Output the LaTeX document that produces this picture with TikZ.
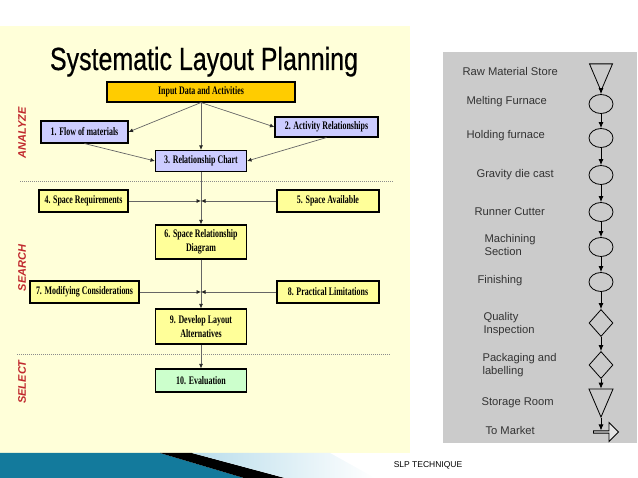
\documentclass[tikz,border=0pt]{standalone}
\usepackage{fontspec}
\usepackage{xcolor}
\usetikzlibrary{arrows.meta,shapes.geometric,shapes.arrows}
\setmainfont{Liberation Serif}
\newfontfamily\titlefont[FakeStretch=0.78,FakeBold=0.5]{Liberation Sans}
\newfontfamily\boxfont[FakeStretch=0.69]{Liberation Serif}
\newfontfamily\labfont{Liberation Sans}
\definecolor{cream}{HTML}{FFFFD9}
\definecolor{gold}{HTML}{FFCC00}
\definecolor{lavender}{HTML}{CCCCFF}
\definecolor{lemon}{HTML}{FFFF99}
\definecolor{mint}{HTML}{CCFFCC}
\definecolor{panel}{HTML}{CBCBCB}
\definecolor{phase}{HTML}{C0282D}
\definecolor{teal1}{HTML}{137A9C}
\definecolor{teal2}{HTML}{4DB3D6}
\definecolor{ice}{HTML}{B9DDEB}

\begin{document}
\begin{tikzpicture}[x=1pt,y=-1pt]
  \tikzstyle{box}=[draw,line width=1.1pt,inner sep=1pt,align=center,
    font=\boxfont\bfseries\fontsize{11.5}{13.5}\selectfont]
  \tikzstyle{link}=[draw=black!60,line width=0.7pt,
    -{Latex[length=4.5pt,width=4pt,color=black!85]}]
  \tikzstyle{divider}=[draw=black!45,line width=0.6pt,dash pattern=on 1pt off 1pt]
  \tikzstyle{phasename}=[rotate=90,text=phase,font=\labfont\bfseries\itshape\fontsize{11}{13}\selectfont]
  \tikzstyle{sym}=[draw,line width=0.8pt,inner sep=0pt]
  \tikzstyle{flow}=[draw,line width=0.8pt,-{Latex[length=6pt,width=5pt]}]
  \tikzstyle{stage}=[anchor=west,align=left,text=black!80,
    font=\labfont\fontsize{11.2}{13}\selectfont]
  \useasboundingbox (0,0) rectangle (638,478);
  % backgrounds
  \fill[cream] (0,26) rectangle (410,453);
  \fill[panel] (443,52) rectangle (637,443);
  \shade[left color=teal1,middle color=teal2,right color=teal1]
    (0,453) -- (160,453) -- (244,478) -- (0,478) -- cycle;
  \fill[black] (160,453) -- (192,453) -- (285,478) -- (244,478) -- cycle;
  \shade[left color=ice,right color=white]
    (192,453) -- (330,453) -- (375,478) -- (285,478) -- cycle;
  \node(title)[font=\titlefont\fontsize{32}{34}\selectfont,anchor=base] at (204,70)
    {Systematic Layout Planning};
  \node(foot)[font=\labfont\fontsize{8.5}{10}\selectfont] at (428,465) {SLP TECHNIQUE};
  % phases
  \node(ana)[phasename] at (22,133) {ANALYZE};
  \node(sea)[phasename] at (22,268) {SEARCH};
  \node(sel)[phasename] at (22,382) {SELECT};
  \draw[divider] (20,181) -- (393,181);
  \draw[divider] (17,354) -- (391,354);
  % SLP boxes
  \node(in)[box,fill=gold,minimum width=188,minimum height=20] at (201,92)
    {Input Data and Activities};
  \node(1)[box,fill=lavender,minimum width=87,minimum height=22] at (84.5,132)
    {1. Flow of materials};
  \node(2)[box,fill=lavender,minimum width=103,minimum height=20] at (326.5,127)
    {2. Activity Relationships};
  \node(3)[box,fill=lavender,minimum width=91,minimum height=21] at (201,161)
    {3. Relationship Chart};
  \node(4)[box,fill=lemon,minimum width=89,minimum height=22] at (83.5,201)
    {4. Space Requirements};
  \node(5)[box,fill=lemon,minimum width=102,minimum height=22] at (328,201)
    {5. Space Available};
  \node(6)[box,fill=lemon,minimum width=91,minimum height=34] at (201,242)
    {6. Space Relationship\\Diagram};
  \node(7)[box,fill=lemon,minimum width=109,minimum height=22] at (84.5,292)
    {7. Modifying Considerations};
  \node(8)[box,fill=lemon,minimum width=102,minimum height=22] at (328,292)
    {8. Practical Limitations};
  \node(9)[box,fill=lemon,minimum width=91,minimum height=35] at (201,326.5)
    {9. Develop Layout\\Alternatives};
  \node(10)[box,fill=mint,minimum width=91,minimum height=23] at (201,380.5)
    {10. Evaluation};
  \coordinate(j1) at (201,201);
  \coordinate(j2) at (201,292);
  \draw[link] (in.south) -- (1.east);
  \draw[link] (in.south) -- (2.west);
  \draw[link] (in.south) -- (3.north);
  \draw[link] (1.south) -- (3.west);
  \draw[link] (2.south) -- (3.east);
  \draw[link] (3.south) -- (6.north);
  \draw[link] (4.east) -- (j1);
  \draw[link] (5.west) -- (j1);
  \draw[link] (6.south) -- (9.north);
  \draw[link] (7.east) -- (j2);
  \draw[link] (8.west) -- (j2);
  \draw[link] (9.south) -- (10.north);
  % process chart
  \node(t1)[sym,isosceles triangle,isosceles triangle stretches,shape border rotate=270,
    minimum width=23,minimum height=27] at (601,71.5) {};
  \node(e1)[sym,ellipse,minimum width=24,minimum height=19] at (601,104) {};
  \node(e2)[sym,ellipse,minimum width=24,minimum height=19] at (601,138) {};
  \node(e3)[sym,ellipse,minimum width=24,minimum height=19] at (601,175) {};
  \node(e4)[sym,ellipse,minimum width=24,minimum height=19] at (601,212) {};
  \node(e5)[sym,ellipse,minimum width=24,minimum height=19] at (601,247) {};
  \node(e6)[sym,ellipse,minimum width=24,minimum height=19] at (601,282) {};
  \node(d1)[sym,diamond,minimum width=24,minimum height=27] at (601,323) {};
  \node(d2)[sym,diamond,minimum width=24,minimum height=27] at (601,365) {};
  \node(t2)[sym,isosceles triangle,isosceles triangle stretches,shape border rotate=270,
    minimum width=24,minimum height=28] at (601,397) {};
  \node(m)[sym,single arrow,single arrow head extend=3pt,minimum height=25,
    minimum width=19,fill=panel!50] at (605.5,432) {};
  \draw[flow] (t1.apex) -- (e1.north);
  \draw[flow] (e1.south) -- (e2.north);
  \draw[flow] (e2.south) -- (e3.north);
  \draw[flow] (e3.south) -- (e4.north);
  \draw[flow] (e4.south) -- (e5.north);
  \draw[flow] (e5.south) -- (e6.north);
  \draw[flow] (e6.south) -- (d1.north);
  \draw[flow] (d1.south) -- (d2.north);
  \draw[flow] (d2.south) -- (t2.north);
  \draw[flow] (t2.apex) -- (m.north -| t2.apex);
  % stage names
  \node(s1)[stage] at (459,72) {Raw Material Store};
  \node(s2)[stage] at (463,102) {Melting Furnace};
  \node(s3)[stage] at (463,136) {Holding furnace};
  \node(s4)[stage] at (473,175) {Gravity die cast};
  \node(s5)[stage] at (471,212) {Runner Cutter};
  \node(s6)[stage] at (481,245) {Machining\\Section};
  \node(s7)[stage] at (474,281) {Finishing};
  \node(s8)[stage] at (480,324) {Quality\\Inspection};
  \node(s9)[stage] at (479,365) {Packaging and\\labelling};
  \node(s10)[stage] at (478,403) {Storage Room};
  \node(s11)[stage] at (482,430) {To Market};
\end{tikzpicture}
\end{document}
